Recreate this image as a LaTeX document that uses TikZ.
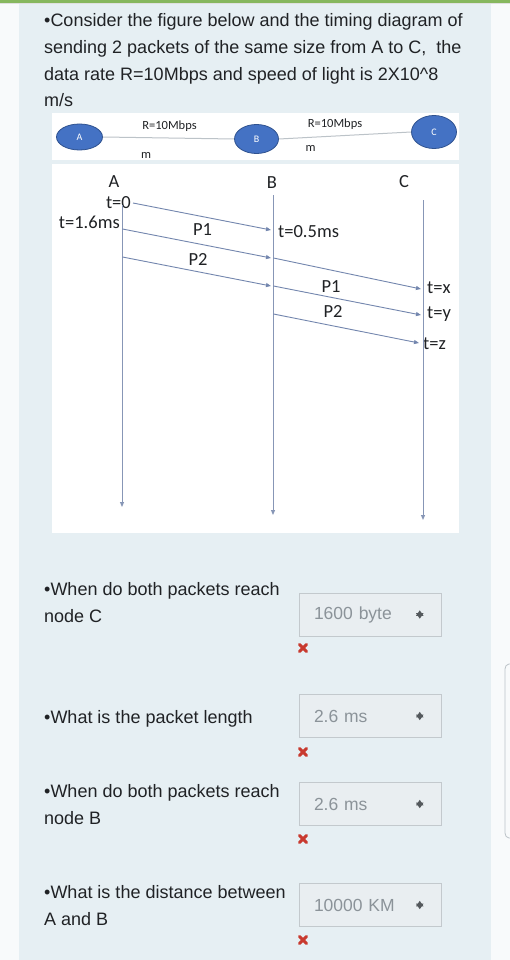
\documentclass[tikz,border=0pt]{standalone}
\usepackage{fontspec}
\setmainfont{Liberation Sans}
\newfontfamily\calfont{Carlito}
\usetikzlibrary{arrows.meta,shapes.geometric}
\definecolor{outer}{HTML}{F8FAFB}
\definecolor{panel}{HTML}{E6EFF3}
\definecolor{topgreen}{HTML}{86B75E}
\definecolor{nodeblue}{HTML}{4472C4}
\definecolor{nodeedge}{HTML}{2F528F}
\definecolor{linkgrey}{HTML}{BCC3C8}
\definecolor{seq}{HTML}{7386AE}
\definecolor{vline}{HTML}{8796B6}
\definecolor{txt}{HTML}{202225}
\definecolor{boxfill}{HTML}{E9EEF1}
\definecolor{boxedge}{HTML}{C3C9CD}
\definecolor{boxtxt}{HTML}{8B9399}
\definecolor{icon}{HTML}{54595D}
\definecolor{xred}{HTML}{C8392E}
\tikzset{
  hdr/.style={anchor=base west, inner sep=0pt, text=txt, font=\fontsize{18}{20}\selectfont},
  cal/.style={inner sep=0pt, text=txt, font=\calfont\fontsize{18.5}{20}\selectfont},
  small/.style={inner sep=0pt, text=txt, font=\calfont\fontsize{12.5}{14}\selectfont},
  netnode/.style={ellipse, draw=nodeedge, line width=0.8pt, fill=nodeblue, text=white, inner sep=0pt, font=\calfont\fontsize{10}{11}\selectfont},
  link/.style={draw=linkgrey, line width=1pt},
  life/.style={draw=vline, line width=1pt, -{Triangle[length=5pt,width=4pt]}},
  pkt/.style={draw=seq, line width=0.9pt, -{Triangle[length=5pt,width=4pt]}},
  answer/.style={rectangle, draw=boxedge, line width=1pt, fill=boxfill, minimum width=142pt, minimum height=43pt, inner xsep=15pt, text width=112pt, align=left, text=boxtxt, font=\fontsize{17.5}{19}\selectfont},
  updown/.style={fill=icon, draw=none},
  wrong/.style={draw=xred, line width=3pt, line cap=round},
}
\begin{document}
\begin{tikzpicture}[x=1pt,y=-1pt]
\useasboundingbox (0,0) rectangle (510,960);
% backgrounds
\fill[outer] (0,0) rectangle (510,960);
\fill[panel] (19,4) rectangle (491,960);
\fill[topgreen] (0,0) rectangle (510,3);
\fill[black!12] (0,3) rectangle (510,4.2);
\fill[white] (52,113) rectangle (459,160);
\fill[white] (52,164) rectangle (459,533);
\draw[linkgrey, line width=0.8pt] (510,664) -- (509,664) to[out=180,in=90] (505,669) -- (505,833) to[out=-90,in=180] (509,838) -- (510,838);

% header
\node[hdr] (h1) at (44,27) {•Consider the figure below and the timing diagram of};
\node[hdr] (h2) at (44,53.5) {sending 2 packets of the same size from A to C,\ \ the};
\node[hdr] (h3) at (44,80.5) {data rate R=10Mbps and speed of light is 2X10\^{}8};
\node[hdr] (h4) at (44,107) {m/s};

% network figure
\node[netnode, minimum width=46pt, minimum height=26pt] (nA) at (79.5,137) {A};
\node[netnode, minimum width=44pt, minimum height=29pt] (nB) at (256.5,139) {B};
\node[netnode, minimum width=45pt, minimum height=33pt] (nC) at (434,132) {C};
\draw[link] (nA.east) -- (nB.west);
\draw[link] (nB.east) -- (nC.west);
\node[small, anchor=base] (r1) at (169.5,130) {R=10Mbps};
\node[small, anchor=base] (r2) at (335,128) {R=10Mbps};
\node[small] (m1) at (146,155) {m};
\node[small] (m2) at (310.5,148) {m};

% timing diagram
\node[cal, anchor=base] (lA) at (114,187) {A};
\node[cal, anchor=base] (lB) at (272,188) {B};
\node[cal, anchor=base] (lC) at (404,187) {C};
\node[cal, anchor=base east] (t0) at (131,208) {t=0};
\node[cal, anchor=base east] (t16) at (120,228) {t=1.6ms};
\node[cal, anchor=base west] (t05) at (278,237) {t=0.5ms};
\node[cal, anchor=base west] (tx) at (427,293) {t=x};
\node[cal, anchor=base west] (ty) at (427,318) {t=y};
\node[cal, anchor=base west] (tz) at (423,349) {t=z};
\node[cal, anchor=base] (p1a) at (202.5,235) {P1};
\node[cal, anchor=base] (p2a) at (198,265) {P2};
\node[cal, anchor=base] (p1b) at (331,292) {P1};
\node[cal, anchor=base] (p2b) at (333,317) {P2};

\coordinate (Atop) at (122,205);
\coordinate (Abot) at (122,507);
\coordinate (Btop) at (273,195);
\coordinate (Bbot) at (273,515);
\coordinate (Ctop) at (423,200);
\coordinate (Cbot) at (423,520);
\draw[life] (Atop) -- (Abot);
\draw[life] (Btop) -- (Bbot);
\draw[life] (Ctop) -- (Cbot);

\coordinate (a1) at (133,203);
\coordinate (a2) at (122.5,229);
\coordinate (a3) at (122.5,257);
\coordinate (b1) at (271,230);
\coordinate (b2) at (271,258);
\coordinate (b3) at (271,286);
\coordinate (b4) at (273.5,258);
\coordinate (b5) at (273.5,286);
\coordinate (b6) at (273.5,314);
\coordinate (c1) at (421,289);
\coordinate (c2) at (421,315);
\coordinate (c3) at (419,343);
\draw[pkt] (a1) -- (b1);
\draw[pkt] (a2) -- (b2);
\draw[pkt] (a3) -- (b3);
\draw[pkt] (b4) -- (c1);
\draw[pkt] (b5) -- (c2);
\draw[pkt] (b6) -- (c3);

% questions
\node[hdr] (q1a) at (44,595) {•When do both packets reach};
\node[hdr] (q1b) at (44,622) {node C};
\node[hdr] (q2a) at (44,723) {•What is the packet length};
\node[hdr] (q3a) at (44,797) {•When do both packets reach};
\node[hdr] (q3b) at (44,824) {node B};
\node[hdr] (q4a) at (44,898) {•What is the distance between};
\node[hdr] (q4b) at (44,925) {A and B};

\node[answer] (ans1) at (370,614.5) {1600 byte};
\node[answer] (ans2) at (370,716) {2.6 ms};
\node[answer] (ans3) at (370,804) {2.6 ms};
\node[answer] (ans4) at (370,905) {10000 KM};

\foreach \n in {ans1,ans2,ans3,ans4}{
  \fill[updown] ([xshift=-18pt,yshift=-1.3pt]\n.east) -- ++(-7.5,0) -- ++(3.75,-5.5) -- cycle;
  \fill[updown] ([xshift=-18pt,yshift=1.3pt]\n.east) -- ++(-7.5,0) -- ++(3.75,5.5) -- cycle;
}

\foreach \y in {648,752,839,940}{
  \draw[wrong] (299.5,\y-3.5) -- (306.5,\y+3.5);
  \draw[wrong] (299.5,\y+3.5) -- (306.5,\y-3.5);
}
\end{tikzpicture}
\end{document}
